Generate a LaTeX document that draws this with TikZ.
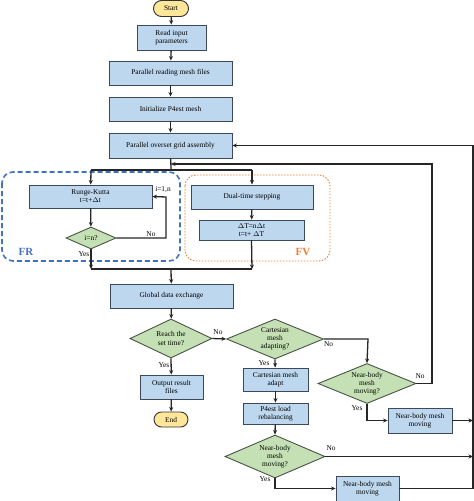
\documentclass[tikz,border=0pt]{standalone}
\usepackage{fontspec}
\setmainfont{Liberation Serif}
\usetikzlibrary{shapes.geometric,shapes.misc,arrows.meta}
\definecolor{boxfill}{RGB}{189,215,238}
\definecolor{boxdraw}{RGB}{60,72,92}
\definecolor{dfill}{RGB}{197,224,180}
\definecolor{ddraw}{RGB}{70,84,70}
\definecolor{tfill}{RGB}{255,230,153}
\definecolor{frblue}{RGB}{68,114,196}
\definecolor{fvorange}{RGB}{237,125,49}
\tikzset{
  every node/.style={font=\fontsize{7.4}{8.2}\selectfont, align=center, inner sep=0pt},
  proc/.style={rectangle, draw=boxdraw, fill=boxfill, line width=0.9bp},
  dec/.style={diamond, draw=ddraw, fill=dfill, line width=0.9bp},
  term/.style={rounded rectangle, draw=black!80, fill=tfill, line width=0.9bp},
  conn/.style={line width=1.3bp, black!85},
  arr/.style={conn, -{Stealth[length=4.5bp,width=4bp]}},
  lbl/.style={font=\fontsize{7.4}{8.2}\selectfont},
}
\begin{document}
\begin{tikzpicture}[x=1bp,y=-1bp]
\useasboundingbox (0,0) rectangle (474,501);
% groups
\draw[frblue, line width=1.6bp, dash pattern=on 5bp off 3bp, rounded corners=11bp] (2,172) rectangle (180,261);
\draw[fvorange, line width=0.9bp, dash pattern=on 1.5bp off 1.5bp, rounded corners=11bp] (185,175) rectangle (330,261);
\node[text=frblue, font=\bfseries\fontsize{11}{12}\selectfont] (frl) at (26,252) {FR};
\node[text=fvorange, font=\bfseries\fontsize{11}{12}\selectfont] (fvl) at (303,252) {FV};
% nodes
\node[term, minimum width=35bp, minimum height=16bp] (start) at (171,8.5) {Start};
\node[proc, minimum width=69bp, minimum height=25bp] (read) at (171.5,37.5) {Read input\\parameters};
\node[proc, minimum width=123bp, minimum height=24bp] (rmesh) at (170.5,73) {Parallel reading mesh files};
\node[proc, minimum width=123bp, minimum height=24bp] (init) at (170.5,109) {Initialize P4est mesh};
\node[proc, minimum width=123bp, minimum height=25bp] (over) at (170.5,145.5) {Parallel overset grid assembly};
\node[proc, minimum width=123bp, minimum height=23bp] (rk) at (90.5,196.5) {Runge-Kutta\\t=t+$\Delta$t};
\node[dec, minimum width=50bp, minimum height=22bp, shape aspect=2.3] (ien) at (91,238) {i=n?};
\node[proc, minimum width=122bp, minimum height=24bp] (dual) at (252,197) {Dual-time stepping};
\node[proc, minimum width=105bp, minimum height=20bp] (dT) at (251.5,230) {$\Delta$T=n$\Delta$t\\t=t+ $\Delta$T};
\node[proc, minimum width=123bp, minimum height=24bp] (glob) at (171.5,296) {Global data exchange};
\node[dec, minimum width=82bp, minimum height=39bp, shape aspect=2.1] (reach) at (171,338.5) {Reach the\\set time?};
\node[dec, minimum width=97bp, minimum height=40bp, shape aspect=2.4] (cart) at (275,339) {Cartesian\\mesh\\adapting?};
\node[proc, minimum width=65bp, minimum height=23bp] (cad) at (275.5,379.5) {Cartesian mesh\\adapt};
\node[proc, minimum width=65bp, minimum height=21bp] (p4) at (275.5,413.5) {P4est load\\rebalancing};
\node[dec, minimum width=100bp, minimum height=43bp, shape aspect=2.3] (nbb) at (275,456.5) {Near-body\\mesh\\moving?};
\node[proc, minimum width=63bp, minimum height=25bp] (nbmb) at (367.5,488.5) {Near-body mesh\\moving};
\node[dec, minimum width=98bp, minimum height=40bp, shape aspect=2.4] (nba) at (367,383.5) {Near-body\\mesh\\moving?};
\node[proc, minimum width=64bp, minimum height=25bp] (nbma) at (420,420.5) {Near-body mesh\\moving};
\node[proc, minimum width=63bp, minimum height=24bp] (out) at (171.5,387) {Output result\\files};
\node[term, minimum width=34bp, minimum height=15bp] (end) at (171,419.5) {End};
% coordinates
\coordinate (j1) at (171,170);
\coordinate (j1l) at (91,170);
\coordinate (j1r) at (252,170);
\coordinate (rkr) at (166,238);
\coordinate (rkr2) at (166,197);
\coordinate (j2l) at (91,269);
\coordinate (j2r) at (252,269);
\coordinate (j2) at (171,269);
\coordinate (cr) at (368,339);
\coordinate (nbbs) at (275,488.5);
\coordinate (nbas) at (367,420.5);
\coordinate (ra) at (473,456.5);
\coordinate (rb) at (473,488.5);
\coordinate (rc) at (473,420.5);
\coordinate (rtop) at (473,145.5);
\coordinate (la) at (432,383.5);
\coordinate (lb) at (432,164);
\coordinate (lc) at (171,164);
% connectors
\draw[arr] (start) -- (read);
\draw[arr] (read) -- (rmesh);
\draw[arr] (rmesh) -- (init);
\draw[arr] (init) -- (over);
\draw[conn] (over) -- (j1);
\draw[conn] (j1l) -- (j1r);
\draw[arr] (j1l) -- (rk);
\draw[arr] (j1r) -- (dual);
\draw[arr] (rk) -- (ien);
\draw[arr] (ien.east) -- (rkr) -- (rkr2) -- (rk.east);
\draw[arr] (ien.south) -- (j2l);
\draw[arr] (dual) -- (dT);
\draw[arr] (dT.south) -- (j2r);
\draw[conn] (j2l) -- (j2r);
\draw[arr] (j2) -- (glob);
\draw[arr] (glob) -- (reach);
\draw[arr] (reach.east) -- (cart.west);
\draw[arr] (reach.south) -- (out);
\draw[arr] (out) -- (end);
\draw[arr] (cart.east) -- (cr) -- (nba.north);
\draw[arr] (cart.south) -- (cad);
\draw[arr] (cad) -- (p4);
\draw[arr] (p4) -- (nbb.north);
\draw[arr] (nbb.east) -- (ra);
\draw[arr] (nbb.south) -- (nbbs) -- (nbmb.west);
\draw[conn] (nbmb.east) -- (rb);
\draw[arr] (nba.south) -- (nbas) -- (nbma.west);
\draw[arr] (nbma.east) -- (rc);
\draw[arr] (nba.east) -- (la) -- (lb) -- (lc);
\draw[arr] (rb) -- (rtop) -- (over.east);
% labels
\node[lbl] (l1) at (163,190) {i=1,n};
\node[lbl] (l2) at (151,234) {No};
\node[lbl] (l3) at (84,254.5) {Yes};
\node[lbl] (l4) at (218,332) {No};
\node[lbl] (l5) at (164,365) {Yes};
\node[lbl] (l6) at (264,363) {Yes};
\node[lbl] (l7) at (328.5,344.5) {No};
\node[lbl] (l8) at (420,376) {No};
\node[lbl] (l9) at (357,408) {Yes};
\node[lbl] (l10) at (331,448) {No};
\node[lbl] (l11) at (265,479.5) {Yes};
\end{tikzpicture}
\end{document}
